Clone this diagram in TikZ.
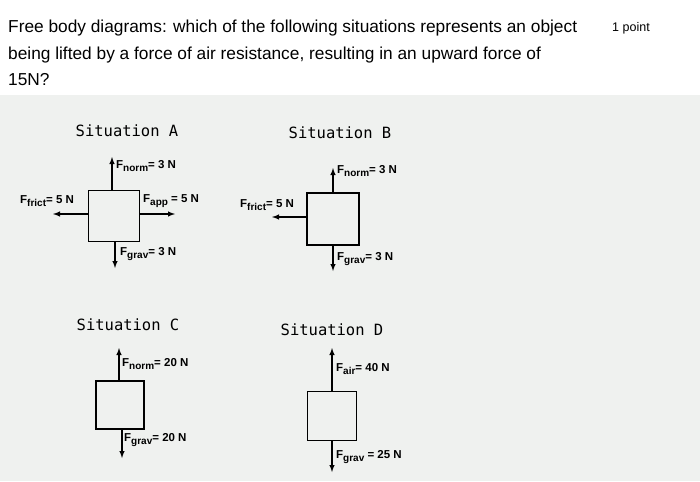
\documentclass[tikz,border=0pt]{standalone}
\usepackage{fontspec}
\setmainfont{Liberation Sans}
\newfontfamily\monof{DejaVu Sans Mono}
\newcommand{\fsub}[1]{F\raisebox{-3pt}{\fontsize{10}{10}\selectfont #1}}
\begin{document}
\begin{tikzpicture}[x=1pt,y=-1pt,
  blk/.style={draw,line width=1.4pt,minimum width=#1,minimum height=#1,inner sep=0},
  frc/.style={-latex,line width=1.4pt},
  lbl/.style={font=\bfseries\fontsize{11.5}{12}\selectfont,anchor=west,inner sep=0},
  sit/.style={font=\monof\fontsize{15.5}{16}\selectfont,inner sep=0},
  ttl/.style={font=\fontsize{17.3}{18}\selectfont,anchor=west,inner sep=0}]
\fill[white] (0,0) rectangle (700,481);
\fill[green!6!gray!12] (0,95) rectangle (700,481);
\node[ttl] (t1) at (8,28) {Free body diagrams: which of the following situations represents an object};
\node[ttl] (t2) at (8,55) {being lifted by a force of air resistance, resulting in an upward force of};
\node[ttl] (t3) at (8,80) {15N?};
\node[anchor=west,inner sep=0,font=\fontsize{12.5}{13}\selectfont] (pt) at (612,28) {1 point};
% A
\node[sit] (sa) at (127,131) {Situation A};
\node[blk=51pt] (ba) at (114,216) {};
\coordinate (an) at (112,157);
\coordinate (af) at (53,214);
\coordinate (ap) at (175,214);
\coordinate (ag) at (115,268);
\draw[frc] (ba.north -| an) -- (an);
\draw[frc] (ba.west |- af) -- (af);
\draw[frc] (ba.east |- ap) -- (ap);
\draw[frc] (ba.south -| ag) -- (ag);
\node[lbl] (la1) at (116,166) {\fsub{norm}= 3 N};
\node[lbl] (la2) at (20,201) {\fsub{frict}= 5 N};
\node[lbl] (la3) at (143,201) {\fsub{app} = 5 N};
\node[lbl] (la4) at (120,254) {\fsub{grav}= 3 N};
% B
\node[sit] (sb) at (340,133) {Situation B};
\node[blk=52pt] (bb) at (333,219) {};
\coordinate (bn) at (333,168);
\coordinate (bf) at (272,217);
\coordinate (bg) at (333,271);
\draw[frc] (bb.north -| bn) -- (bn);
\draw[frc] (bb.west |- bf) -- (bf);
\draw[frc] (bb.south -| bg) -- (bg);
\node[lbl] (lb1) at (337,171) {\fsub{norm}= 3 N};
\node[lbl] (lb2) at (240,205) {\fsub{frict}= 5 N};
\node[lbl] (lb4) at (337,259) {\fsub{grav}= 3 N};
% C
\node[sit] (sc) at (128,325) {Situation C};
\node[blk=48pt] (bc) at (120,405) {};
\coordinate (cn) at (119,348);
\coordinate (cg) at (122,458);
\draw[frc] (bc.north -| cn) -- (cn);
\draw[frc] (bc.south -| cg) -- (cg);
\node[lbl] (lc1) at (122,364) {\fsub{norm}= 20 N};
\node[lbl] (lc4) at (124,440) {\fsub{grav}= 20 N};
% D
\node[sit] (sd) at (332,330) {Situation D};
\node[blk=49pt] (bd) at (332,416) {};
\coordinate (dn) at (332,348);
\coordinate (dg) at (332,472);
\draw[frc] (bd.north -| dn) -- (dn);
\draw[frc] (bd.south -| dg) -- (dg);
\node[lbl] (ld1) at (336,369) {\fsub{air}= 40 N};
\node[lbl] (ld4) at (336,457) {\fsub{grav} = 25 N};
\end{tikzpicture}
\end{document}
